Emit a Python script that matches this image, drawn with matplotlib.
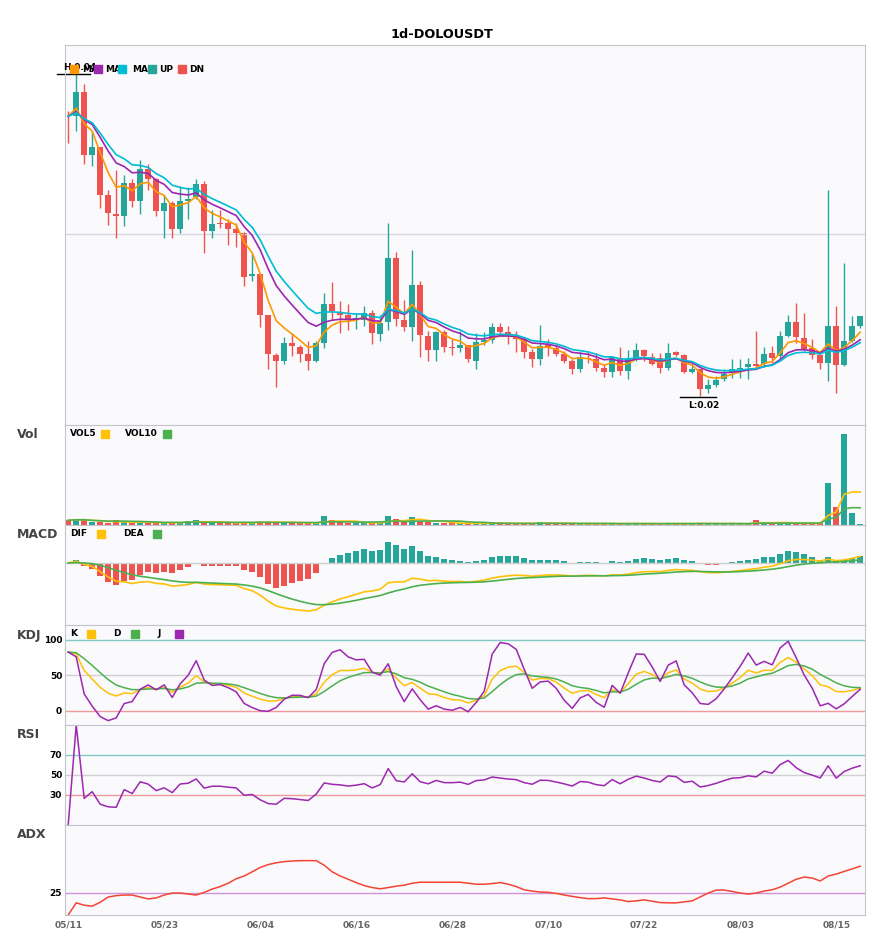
import matplotlib
matplotlib.use('Agg')
import matplotlib.pyplot as plt
from matplotlib.patches import Rectangle
from matplotlib.transforms import Bbox, TransformedBbox
import numpy as np
import pandas as pd

# daily candles 05/11 .. 08/18
dates = pd.date_range('2025-05-11', periods=100, freq='D')

opens = [
    0.03744, 0.03744, 0.03894, 0.03500, 0.03550, 0.03248, 0.03129, 0.03114, 0.03323, 0.03208,
    0.03406, 0.03344, 0.03146, 0.03198, 0.03031, 0.03208, 0.03233, 0.03313, 0.03019, 0.03067,
    0.03067, 0.03031, 0.03008, 0.02740, 0.02748, 0.02489, 0.02239, 0.02202, 0.02317, 0.02292,
    0.02250, 0.02202, 0.02313, 0.02561, 0.02513, 0.02494, 0.02463, 0.02458, 0.02504, 0.02373,
    0.02448, 0.02848, 0.02463, 0.02414, 0.02681, 0.02363, 0.02275, 0.02383, 0.02289, 0.02286,
    0.02302, 0.02206, 0.02320, 0.02338, 0.02417, 0.02386, 0.02358, 0.02344, 0.02258, 0.02213,
    0.02306, 0.02286, 0.02248, 0.02206, 0.02150, 0.02223, 0.02213, 0.02156, 0.02133, 0.02223,
    0.02139, 0.02213, 0.02269, 0.02229, 0.02220, 0.02156, 0.02258, 0.02239, 0.02133, 0.02150,
    0.02029, 0.02052, 0.02088, 0.02125, 0.02154, 0.02164, 0.02186, 0.02181, 0.02254, 0.02233,
    0.02358, 0.02448, 0.02348, 0.02286, 0.02238, 0.02192, 0.02420, 0.02177, 0.02331, 0.02420,
]
highs = [
    0.03775, 0.04006, 0.03942, 0.03639, 0.03550, 0.03279, 0.03400, 0.03369, 0.03344, 0.03463,
    0.03442, 0.03350, 0.03248, 0.03205, 0.03300, 0.03296, 0.03344, 0.03331, 0.03150, 0.03154,
    0.03098, 0.03067, 0.03015, 0.02873, 0.02750, 0.02495, 0.02254, 0.02352, 0.02379, 0.02302,
    0.02331, 0.02331, 0.02629, 0.02698, 0.02577, 0.02561, 0.02504, 0.02550, 0.02525, 0.02494,
    0.03067, 0.02886, 0.02588, 0.02900, 0.02706, 0.02390, 0.02390, 0.02400, 0.02342, 0.02390,
    0.02305, 0.02379, 0.02386, 0.02442, 0.02442, 0.02421, 0.02390, 0.02352, 0.02279, 0.02431,
    0.02344, 0.02306, 0.02264, 0.02213, 0.02258, 0.02258, 0.02254, 0.02181, 0.02233, 0.02289,
    0.02269, 0.02317, 0.02279, 0.02254, 0.02254, 0.02313, 0.02264, 0.02244, 0.02202, 0.02152,
    0.02092, 0.02108, 0.02150, 0.02213, 0.02213, 0.02223, 0.02394, 0.02292, 0.02296, 0.02394,
    0.02494, 0.02567, 0.02504, 0.02342, 0.02240, 0.03279, 0.02550, 0.02817, 0.02483, 0.02488,
]
lows = [
    0.03571, 0.03650, 0.03438, 0.03431, 0.03164, 0.03056, 0.02977, 0.03052, 0.03171, 0.03125,
    0.03279, 0.03114, 0.02973, 0.02977, 0.03004, 0.03098, 0.03223, 0.02883, 0.02977, 0.03039,
    0.02931, 0.02921, 0.02671, 0.02706, 0.02414, 0.02150, 0.02039, 0.02186, 0.02233, 0.02196,
    0.02146, 0.02196, 0.02286, 0.02458, 0.02379, 0.02400, 0.02404, 0.02421, 0.02310, 0.02327,
    0.02396, 0.02425, 0.02390, 0.02327, 0.02227, 0.02202, 0.02202, 0.02258, 0.02238, 0.02258,
    0.02196, 0.02150, 0.02306, 0.02317, 0.02358, 0.02310, 0.02258, 0.02223, 0.02164, 0.02175,
    0.02233, 0.02233, 0.02188, 0.02119, 0.02133, 0.02188, 0.02139, 0.02102, 0.02102, 0.02113,
    0.02088, 0.02202, 0.02202, 0.02177, 0.02129, 0.02146, 0.02233, 0.02125, 0.02125, 0.01983,
    0.02004, 0.02042, 0.02077, 0.02098, 0.02098, 0.02088, 0.02161, 0.02164, 0.02192, 0.02202,
    0.02352, 0.02317, 0.02264, 0.02213, 0.02150, 0.02077, 0.02000, 0.02171, 0.02323, 0.02411,
]
closes = [
    0.03740, 0.03894, 0.03500, 0.03550, 0.03244, 0.03133, 0.03113, 0.03323, 0.03208, 0.03406,
    0.03344, 0.03146, 0.03198, 0.03031, 0.03206, 0.03223, 0.03317, 0.03019, 0.03063, 0.03063,
    0.03031, 0.03008, 0.02733, 0.02748, 0.02489, 0.02248, 0.02202, 0.02317, 0.02296, 0.02250,
    0.02202, 0.02317, 0.02561, 0.02514, 0.02494, 0.02458, 0.02475, 0.02504, 0.02379, 0.02442,
    0.02848, 0.02467, 0.02414, 0.02681, 0.02364, 0.02271, 0.02383, 0.02289, 0.02286, 0.02302,
    0.02217, 0.02320, 0.02338, 0.02417, 0.02386, 0.02358, 0.02342, 0.02258, 0.02213, 0.02296,
    0.02289, 0.02250, 0.02206, 0.02150, 0.02227, 0.02213, 0.02156, 0.02133, 0.02229, 0.02139,
    0.02213, 0.02269, 0.02233, 0.02186, 0.02156, 0.02254, 0.02239, 0.02133, 0.02150, 0.02029,
    0.02050, 0.02081, 0.02119, 0.02154, 0.02160, 0.02186, 0.02171, 0.02250, 0.02223, 0.02363,
    0.02448, 0.02352, 0.02279, 0.02239, 0.02192, 0.02420, 0.02177, 0.02331, 0.02420, 0.02488,
]
# volume, millions (no scale shown on the chart)
volumes = [
    4.7, 5.7, 5.3, 2.7, 2.7, 1.7, 4.7, 3.3, 2.0, 2.5,
    2.0, 2.5, 2.0, 2.5, 2.0, 4.3, 4.7, 2.7, 2.3, 1.5,
    2.0, 2.0, 3.3, 2.0, 3.3, 3.3, 2.7, 2.7, 2.0, 1.5,
    2.0, 2.0, 8.5, 4.5, 2.5, 2.0, 1.5, 2.0, 2.5, 2.5,
    8.5, 5.5, 2.5, 8.0, 4.0, 2.5, 2.0, 2.0, 1.5, 1.5,
    1.5, 2.0, 1.5, 2.0, 1.5, 1.5, 1.5, 1.5, 1.5, 3.3,
    1.5, 1.2, 1.2, 1.5, 1.5, 1.2, 1.2, 1.5, 1.5, 1.5,
    1.5, 1.5, 1.2, 1.2, 1.2, 2.0, 1.2, 1.5, 1.2, 2.0,
    1.5, 1.2, 1.2, 1.5, 1.2, 1.2, 5.3, 2.0, 1.5, 2.0,
    1.5, 2.0, 1.5, 1.2, 1.5, 41.6, 18.3, 90.3, 12.3, 0.8,
]
adx = [
    0.0, 13.5, 10.9, 9.8, 14.2, 20.0, 21.5, 22.2, 22.2, 20.0,
    17.9, 19.0, 22.2, 24.4, 24.4, 23.3, 22.2, 25.1, 28.8, 31.6,
    35.3, 40.3, 43.3, 48.0, 52.8, 56.0, 58.0, 59.3, 60.0, 60.4,
    60.4, 60.4, 55.3, 48.0, 43.3, 39.7, 36.0, 32.7, 30.5, 29.1,
    30.5, 32.0, 33.1, 35.3, 36.4, 36.4, 36.4, 36.4, 36.4, 36.4,
    35.3, 34.2, 34.2, 34.9, 36.0, 34.2, 31.6, 28.0, 26.6, 25.5,
    25.2, 24.0, 22.2, 20.7, 19.3, 18.2, 18.2, 19.0, 17.9, 16.8,
    14.9, 15.7, 16.8, 15.3, 13.8, 13.5, 13.5, 14.6, 15.7, 20.0,
    24.4, 27.7, 27.7, 26.2, 24.4, 23.3, 24.4, 26.6, 28.0, 31.0,
    35.3, 39.7, 42.2, 41.1, 37.8, 43.3, 45.5, 48.4, 51.3, 54.2,
]

UP = '#26a69a'
DN = '#ef5350'
YEL = '#ffc107'
GRN = '#4caf50'
PUR = '#9c27b0'

df = pd.DataFrame({'o': opens, 'h': highs, 'l': lows, 'c': closes, 'v': volumes})
x = np.arange(len(df))
up = df.c >= df.o
cols = np.where(up, UP, DN)

# indicators
ma5 = df.c.ewm(span=5, adjust=False).mean()
ma10 = df.c.ewm(span=10, adjust=False).mean()
ma20 = df.c.ewm(span=13, adjust=False).mean()
vol5 = df.v.rolling(5, min_periods=1).mean()
vol10 = df.v.rolling(10, min_periods=1).mean()

dif = df.c.ewm(span=12, adjust=False).mean() - df.c.ewm(span=26, adjust=False).mean()
dea = dif.ewm(span=9, adjust=False).mean()
hist = 2 * (dif - dea)

low9 = df.l.rolling(9, min_periods=1).min()
high9 = df.h.rolling(9, min_periods=1).max()
rsv = (df.c - low9) / (high9 - low9) * 100
k = rsv.ewm(com=2, adjust=False).mean()
d = k.ewm(com=2, adjust=False).mean()
j = 3 * k - 2 * d

delta = df.c.diff()
gain = delta.clip(lower=0).ewm(com=13).mean()
loss = (-delta.clip(upper=0)).ewm(com=13).mean()
rsi = (100 - 100 / (1 + gain / loss)).fillna(0)

W, H = 885, 950
fig = plt.figure(figsize=(W / 100, H / 100), dpi=100)


def fx(px):
    return px / W


def fy(py):
    return 1 - py / H


def panel(top, bottom):
    ax = fig.add_axes([fx(65), fy(bottom), 800 / W, (bottom - top) / H])
    ax.set_facecolor('#fafafc')
    for s in ax.spines.values():
        s.set_color('#c4c4cc')
    ax.set_xlim(-0.4, len(df) - 0.4)
    ax.set_xticks([])
    ax.tick_params(length=0, labelsize=6.5, pad=2)
    return ax


def label(px, py, s, stop=None):
    t = fig.text(fx(px), fy(py), s, fontsize=6.5, fontweight='bold', va='center', ha='left')
    if stop is not None:
        # the next legend square hides the tail of the text
        t.set_clip_box(TransformedBbox(Bbox([[fx(px) - 0.01, 0], [fx(stop), 1]]), fig.transFigure))
        t.set_clip_on(True)


def square(px, py, color):
    fig.add_artist(Rectangle((fx(px), fy(py + 4)), 8 / W, 8 / H, transform=fig.transFigure,
                             color=color, zorder=5))


def bold_yticks(ax):
    for t in ax.get_yticklabels():
        t.set_fontweight('bold')


fig.text(0.5, fy(34), '1d-DOLOUSDT', ha='center', va='center', fontsize=9.3, fontweight='bold')

# price
ax = panel(45, 425)
ax.vlines(x, df.l, df.h, colors=cols, lw=1)
body = np.maximum((df.c - df.o).abs(), 0.00004)
ax.bar(x, body, bottom=np.minimum(df.o, df.c), width=0.8, color=cols)
ax.plot(x, ma5, color='#ff9800', lw=1.2)
ax.plot(x, ma10, color=PUR, lw=1.2)
ax.plot(x, ma20, color='#00bcd4', lw=1.2)
rng = df.h.max() - df.l.min()
ax.set_ylim(df.l.min() - 0.09 * rng, df.h.max() + 0.09 * rng)
ax.set_yticks([0.03])
ax.set_yticklabels([])
ax.grid(axis='y', color='#d8d8e6', lw=1)
ih, il = int(df.h.idxmax()), int(df.l.idxmin())
ax.plot([ih - 2.4, ih + 1.7], [df.h[ih]] * 2, color='black', lw=1, clip_on=False)
ax.text(ih + 0.5, df.h[ih] + 0.0001, 'H:%.2f' % df.h[ih], ha='center', va='bottom',
        fontsize=6.5, fontweight='bold')
ax.plot([il - 2.5, il + 2.0], [df.l[il] - 0.00008] * 2, color='black', lw=1)
ax.text(il + 0.4, df.l[il] - 0.0003, 'L:%.2f' % df.l[il], ha='center', va='top',
        fontsize=6.5, fontweight='bold')
for px, c in [(70, '#ff9800'), (94, PUR), (118, '#00bcd4'), (148, UP), (178, DN)]:
    square(px, 69, c)
label(82, 69, 'MA5', stop=94)
label(105, 69, 'MA10', stop=118)
label(132, 69, 'MA20', stop=148)
label(159, 69, 'UP')
label(189, 69, 'DN')

# volume
ax = panel(425, 525)
ax.bar(x, df.v, width=0.75, color=cols)
ax.plot(x, vol5, color=YEL, lw=1.2)
ax.plot(x, vol10, color=GRN, lw=1.2)
ax.set_ylim(0, df.v.max() * 1.1)
ax.set_yticks([])
label(70, 434, 'VOL5')
square(101, 434, YEL)
label(125, 434, 'VOL10')
square(163, 434, GRN)

# macd
ax = panel(525, 625)
ax.axhline(0, color='#d0d0d0', lw=1)
ax.bar(x, hist, width=0.75, color=np.where(hist >= 0, UP, DN))
ax.plot(x, dif, color=YEL, lw=1.2)
ax.plot(x, dea, color=GRN, lw=1.2)
lo = min(dif.min(), dea.min(), hist.min())
ax.set_ylim(lo * 1.29, -lo * 0.79)
ax.set_yticks([])
label(70, 534, 'DIF')
square(97, 534, YEL)
label(123, 534, 'DEA')
square(153, 534, GRN)

# kdj
ax = panel(625, 725)
ax.axhline(100, color='#80cbc4', lw=1)
ax.axhline(50, color='#d0d0d0', lw=1)
ax.axhline(0, color='#ef9a9a', lw=1)
ax.plot(x, k, color=YEL, lw=1.1)
ax.plot(x, d, color=GRN, lw=1.1)
ax.plot(x, j, color=PUR, lw=1.1)
ax.set_ylim(-20, 121)
ax.set_yticks([0, 50, 100])
bold_yticks(ax)
label(70, 634, 'K')
square(87, 634, YEL)
label(113, 634, 'D')
square(131, 634, GRN)
label(157, 634, 'J')
square(175, 634, PUR)

# rsi
ax = panel(725, 825)
ax.axhline(70, color='#80cbc4', lw=1)
ax.axhline(50, color='#d0d0d0', lw=1)
ax.axhline(30, color='#ef9a9a', lw=1)
ax.plot(x, rsi, color=PUR, lw=1.1)
ax.set_ylim(0, 100)
ax.set_yticks([30, 50, 70])
bold_yticks(ax)

# adx
ax = panel(825, 915)
ax.axhline(25, color='#ce93d8', lw=1)
ax.plot(x, adx, color='#f44336', lw=1.1)
ax.set_ylim(0, 100)
ax.set_yticks([25])
bold_yticks(ax)
ticks = list(range(0, len(df), 12))
ax.set_xticks(ticks)
ax.set_xticklabels([dates[i].strftime('%m/%d') for i in ticks], fontsize=6.5,
                   fontweight='bold', color='#666666')
ax.tick_params(axis='x', length=0, pad=4)

for py, s in [(435, 'Vol'), (535, 'MACD'), (635, 'KDJ'), (735, 'RSI'), (835, 'ADX')]:
    fig.text(fx(17), fy(py), s, fontsize=9, fontweight='bold', color='#444444', va='center')

fig.savefig('out.png', dpi=100)
